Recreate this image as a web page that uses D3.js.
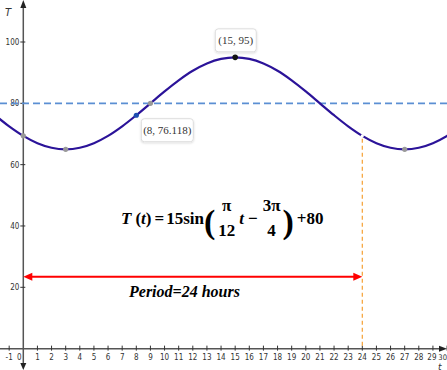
<!DOCTYPE html>
<html><head><meta charset="utf-8">
<script src="https://cdn.jsdelivr.net/npm/d3@7"></script>
<style>html,body{margin:0;padding:0;background:#fff;}svg{display:block;}</style>
</head><body>
<script>
// ---- data ----
const hours = [-2,-1,0,1,2,3,4,5,6,7,8,9,10,11,12,13,14,15,16,17,18,19,20,21,22,23,24,25,26,27,28,29,30,31];
const temps = [76.12,72.5,69.39,67.01,65.51,65,65.51,67.01,69.39,72.5,76.12,80,83.88,87.5,90.61,92.99,94.49,95,94.49,92.99,90.61,87.5,83.88,80,76.12,72.5,69.39,67.01,65.51,65,65.51,67.01,69.39,72.5];
const xTicks = [-1,1,2,3,4,5,6,7,8,9,10,11,12,13,14,15,16,17,18,19,20,21,22,23,24,25,26,27,28,29,30];
const yTicks = [20,40,60,80,100];
const grayPts = [[0,69.39],[3,65],[9,80],[27,65]];
const bluePts = [[8,76.118]];
const blackPts = [[15,95]];
const midline = 80;
const periodStart = 0, periodEnd = 24;
const labels = [{t:15,T:95,text:"(15, 95)"},{t:8,T:76.118,text:"(8, 76.118)"}];

const W=447,H=370;
const svg=d3.select("body").append("svg").attr("width",W).attr("height",H);
const x=d3.scaleLinear().domain([0,24]).range([23.3,362.3]);
const y=d3.scaleLinear().domain([20,100]).range([287.3,42]);
const x0=x(0), y0=y(0);

// defs
const defs=svg.append("defs");
defs.append("clipPath").attr("id","clip").append("rect").attr("x",0).attr("y",0).attr("width",W).attr("height",H);
const sh=defs.append("filter").attr("id","sh").attr("x","-20%").attr("y","-20%").attr("width","140%").attr("height","160%");
sh.append("feDropShadow").attr("dx",0).attr("dy",1).attr("stdDeviation",1).attr("flood-color","#000").attr("flood-opacity",0.15);

// axes
const axisCol="#555";
svg.append("line").attr("x1",x0).attr("x2",x0).attr("y1",4).attr("y2",H-3).attr("stroke",axisCol).attr("stroke-width",1.5);
svg.append("path").attr("d",`M${x0},0 L${x0-3},8 L${x0+3},8 Z`).attr("fill","#222");
svg.append("path").attr("d",`M${x0},${H} L${x0-3},${H-7} L${x0+3},${H-7} Z`).attr("fill","#222");
svg.append("line").attr("x1",0).attr("x2",W-3).attr("y1",y0).attr("y2",y0).attr("stroke",axisCol).attr("stroke-width",1.5);
svg.append("path").attr("d",`M${W},${y0} L${W-8},${y0-3} L${W-8},${y0+3} Z`).attr("fill","#222");

// x ticks
const tickFont="DejaVu Sans Condensed, Liberation Sans, sans-serif";
const gx=svg.append("g");
xTicks.forEach(t=>{
  gx.append("line").attr("x1",x(t)).attr("x2",x(t)).attr("y1",y0-3).attr("y2",y0+2).attr("stroke","#333").attr("stroke-width",1);
  const lab=gx.append("text").attr("x",x(t)).attr("y",y0+11).attr("text-anchor","middle")
    .attr("font-family",tickFont).attr("font-size",8).attr("fill","#333").text(t);
  if(t===29) lab.attr("x",x(t)-1);
  if(x(t)+5>W) lab.attr("text-anchor","end").attr("x",W).attr("font-size",7.6);
});
gx.append("text").attr("x",x0-4).attr("y",y0+11).attr("text-anchor","middle")
  .attr("font-family",tickFont).attr("font-size",8).attr("fill","#333").text("0");
// y ticks
yTicks.forEach(v=>{
  svg.append("line").attr("x1",x0-3).attr("x2",x0+2).attr("y1",y(v)).attr("y2",y(v)).attr("stroke","#333");
  svg.append("text").attr("x",x0-4).attr("y",y(v)+3).attr("text-anchor","end")
    .attr("font-family",tickFont).attr("font-size",8).attr("fill","#333").text(v);
});
svg.append("text").attr("x",5).attr("y",16).attr("font-family","DejaVu Sans, sans-serif").attr("font-style","italic").attr("font-size",10).attr("fill","#333").text("T");
svg.append("text").attr("x",438).attr("y",369.5).attr("font-family","DejaVu Sans, sans-serif").attr("font-style","italic").attr("font-size",9).attr("fill","#333").text("t");

// midline
svg.append("line").attr("x1",0).attr("x2",W).attr("y1",y(midline)).attr("y2",y(midline))
  .attr("stroke","#5b8fd3").attr("stroke-width",1.6).attr("stroke-dasharray","7,4");

// curve
const line=d3.line().x((d,i)=>x(hours[i])).y(d=>y(d)).curve(d3.curveCatmullRom.alpha(0.5));
svg.append("path").attr("clip-path","url(#clip)").attr("d",line(temps)).attr("fill","none").attr("stroke","#2b1399").attr("stroke-width",2.2);

// orange dashed at period end
svg.append("line").attr("x1",x(periodEnd)).attr("x2",x(periodEnd)).attr("y1",y(69.39)+3).attr("y2",y0)
  .attr("stroke","#f5a033").attr("stroke-width",1.2).attr("stroke-dasharray","4,3");
svg.append("circle").attr("cx",x(periodEnd)).attr("cy",y(69.39)).attr("r",1.6).attr("fill","#fff");

// points
grayPts.forEach(p=>svg.append("circle").attr("cx",x(p[0])).attr("cy",y(p[1])).attr("r",2.6).attr("fill","#999"));
bluePts.forEach(p=>svg.append("circle").attr("cx",x(p[0])).attr("cy",y(p[1])).attr("r",2.6).attr("fill","#1f4fb0"));
blackPts.forEach(p=>svg.append("circle").attr("cx",x(p[0])).attr("cy",y(p[1])).attr("r",2.8).attr("fill","#111"));

// labels
const boxes=[{cx:x(15)+0.6,cy:y(95)-17,w:41,h:23},{cx:x(8)+31,cy:y(76.118)+15,w:52,h:23}];
labels.forEach((l,i)=>{
  const b=boxes[i];
  svg.append("rect").attr("x",b.cx-b.w/2).attr("y",b.cy-b.h/2).attr("width",b.w).attr("height",b.h).attr("rx",3)
    .attr("fill","#fff").attr("stroke","#ddd").attr("filter","url(#sh)");
  svg.append("text").attr("x",b.cx).attr("y",b.cy+4).attr("text-anchor","middle")
    .attr("font-family","Liberation Serif, serif").attr("font-size",11).attr("fill","#333").text(l.text);
});

// formula
const F=svg.append("g").attr("font-family","Liberation Serif, Times New Roman, serif").attr("font-weight","bold").attr("fill","#000");
let cx=121; const base=224, fs=17;
function put(txt,opt={}){
  const t=F.append("text").attr("x",cx).attr("y",opt.y||base).attr("font-size",opt.fs||fs).text(txt);
  if(opt.it) t.attr("font-style","italic");
  const w=t.node().getComputedTextLength(); cx+=w+(opt.gap||0); return t;
}
function frac(num,den){
  const a=F.append("text").attr("y",base-13).attr("font-size",fs).attr("text-anchor","middle").text(num);
  const b=F.append("text").attr("y",base+12).attr("font-size",fs).attr("text-anchor","middle").text(den);
  const w=Math.max(a.node().getComputedTextLength(),b.node().getComputedTextLength());
  a.attr("x",cx+w/2+1); b.attr("x",cx+w/2+1); cx+=w+3;
}
put("T",{it:true,gap:4});
put("(",{gap:0}); put("t",{it:true}); put(")",{gap:3});
put("=",{gap:2}); put("15sin",{gap:0});
put("(",{fs:34,y:base+9,gap:2});
frac("π","12"); cx+=2;
put("t",{it:true,gap:4}); put("−",{gap:4});
frac("3π","4");
put(")",{fs:34,y:base+9,gap:3});
put("+80");

// period arrow
const ay=276.7;
svg.append("line").attr("x1",x(periodStart)+7).attr("x2",x(periodEnd)-7).attr("y1",ay).attr("y2",ay).attr("stroke","#f00").attr("stroke-width",2);
svg.append("path").attr("d",`M${x(periodStart)},${ay} L${x(periodStart)+9},${ay-4} L${x(periodStart)+9},${ay+4} Z`).attr("fill","#f00");
svg.append("path").attr("d",`M${x(periodEnd)},${ay} L${x(periodEnd)-9},${ay-4} L${x(periodEnd)-9},${ay+4} Z`).attr("fill","#f00");
svg.append("text").attr("x",129).attr("y",297).attr("font-family","Liberation Serif, serif").attr("font-weight","bold").attr("font-style","italic")
  .attr("font-size",16).attr("fill","#000").text("Period=24 hours");
</script>
</body></html>
